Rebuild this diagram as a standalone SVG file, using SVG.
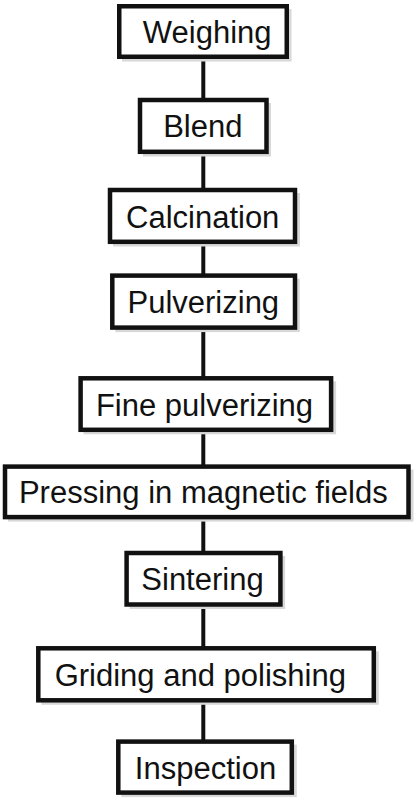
<svg xmlns="http://www.w3.org/2000/svg" width="417" height="809" viewBox="0 0 417 809">
<style>
.box{fill:#fff;stroke:#111;stroke-width:4.5}
.sh{fill:#d8d8d8}
.t{font-family:"Liberation Sans",Arial,sans-serif;font-size:31px;fill:#111;text-anchor:middle}
.c{stroke:#111;stroke-width:4;fill:none}
</style>
<rect width="417" height="809" fill="#fff"/>
<g id="connectors">
<line class="c" x1="203.3" y1="58" x2="203.3" y2="99"/>
<line class="c" x1="203.3" y1="153" x2="203.3" y2="189"/>
<line class="c" x1="203.3" y1="243" x2="203.3" y2="275"/>
<line class="c" x1="203.3" y1="329" x2="203.3" y2="378"/>
<line class="c" x1="203.3" y1="431" x2="203.3" y2="466"/>
<line class="c" x1="203.3" y1="518" x2="203.3" y2="552"/>
<line class="c" x1="203.3" y1="605" x2="203.3" y2="648"/>
<line class="c" x1="203.3" y1="701" x2="203.3" y2="741"/>
</g>
<g id="weighing">
<rect class="sh" x="122" y="9" width="169.5" height="52.5"/>
<rect class="box" x="119.25" y="6.25" width="167.5" height="50.5"/>
<text class="t" x="207.2" y="43">Weighing</text>
</g>
<g id="blend">
<rect class="sh" x="143" y="103" width="128" height="53.5"/>
<rect class="box" x="140" y="100" width="126.5" height="51.8"/>
<text class="t" x="202.8" y="136.7">Blend</text>
</g>
<g id="calcination">
<rect class="sh" x="113" y="193" width="187" height="53.5"/>
<rect class="box" x="110" y="190" width="185" height="51.8"/>
<text class="t" x="202.7" y="227.7">Calcination</text>
</g>
<g id="pulverizing">
<rect class="sh" x="115.3" y="278.6" width="184.5" height="53.5"/>
<rect class="box" x="112.3" y="275.6" width="182.7" height="52"/>
<text class="t" x="203.3" y="313.3">Pulverizing</text>
</g>
<g id="fine-pulverizing">
<rect class="sh" x="83.6" y="381.3" width="252.5" height="53"/>
<rect class="box" x="80.6" y="378.3" width="250.5" height="51.5"/>
<text class="t" x="204.5" y="415.7">Fine pulverizing</text>
</g>
<g id="pressing">
<rect class="sh" x="8" y="469.6" width="405.5" height="52"/>
<rect class="box" x="5" y="466.6" width="403.5" height="50.5"/>
<text class="t" x="203.3" y="502.7">Pressing in magnetic fields</text>
</g>
<g id="sintering">
<rect class="sh" x="129.6" y="556" width="155.5" height="53"/>
<rect class="box" x="126.6" y="553" width="153.8" height="51.5"/>
<text class="t" x="202.5" y="590">Sintering</text>
</g>
<g id="griding">
<rect class="sh" x="41.3" y="651.3" width="337.5" height="53.5"/>
<rect class="box" x="38.3" y="648.3" width="335.5" height="52"/>
<text class="t" x="200.3" y="685.7">Griding and polishing</text>
</g>
<g id="inspection">
<rect class="sh" x="121.3" y="744.6" width="175.5" height="52.5"/>
<rect class="box" x="118.3" y="741.6" width="173.5" height="51"/>
<text class="t" x="205.5" y="779.3">Inspection</text>
</g>
</svg>
